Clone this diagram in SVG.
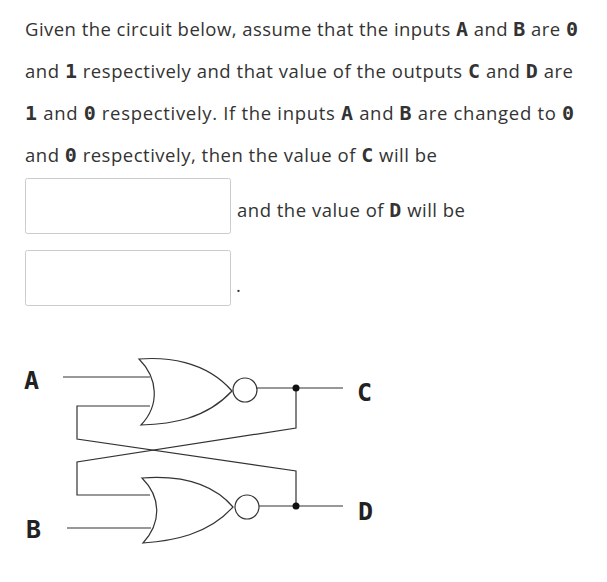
<svg xmlns="http://www.w3.org/2000/svg" width="607" height="582" viewBox="0 0 607 582">
<style>
.t{font-family:"Open Sans","Liberation Sans",sans-serif;font-size:18.5px;fill:#333}
.b{font-family:"DejaVu Sans Mono",monospace;font-weight:bold;font-size:20px}
.box{fill:#fff;stroke:#ccc;stroke-width:1}
.w{fill:none;stroke:#333;stroke-width:1.2}
.lbl{font-family:"DejaVu Sans Mono",monospace;font-weight:bold;font-size:25px;fill:#222}
</style>
<rect width="607" height="582" fill="#fff"/>
<g id="question">
<text class="t" x="25" y="36" textLength="553" lengthAdjust="spacing">Given the circuit below, assume that the inputs <tspan class="b">A</tspan> and <tspan class="b">B</tspan> are <tspan class="b">0</tspan></text>
<text class="t" x="25" y="78" textLength="548" lengthAdjust="spacing">and <tspan class="b">1</tspan> respectively and that value of the outputs <tspan class="b">C</tspan> and <tspan class="b">D</tspan> are</text>
<text class="t" x="25" y="120" textLength="549" lengthAdjust="spacing"><tspan class="b">1</tspan> and <tspan class="b">0</tspan> respectively. If the inputs <tspan class="b">A</tspan> and <tspan class="b">B</tspan> are changed to <tspan class="b">0</tspan></text>
<text class="t" x="25" y="162" textLength="412" lengthAdjust="spacing">and <tspan class="b">0</tspan> respectively, then the value of <tspan class="b">C</tspan> will be</text>
<rect class="box" x="25.5" y="178.5" width="205" height="55" rx="2"/>
<text class="t" x="237" y="217" textLength="228" lengthAdjust="spacing">and the value of <tspan class="b">D</tspan> will be</text>
<rect class="box" x="25.5" y="250.5" width="205" height="55" rx="2"/>
<text class="t" x="236" y="292">.</text>
</g>
<g id="gate1">
<path class="w" d="M139,359 C165,357 205,360 232,391 C205,420 170,424 141,425 C160,405 158,378 139,359 Z"/>
<circle class="w" cx="245" cy="390" r="12"/>
</g>
<g id="gate2">
<path class="w" d="M142,478 C168,476 208,478 233,507 C208,535 172,541 143,543 C162,522 161,497 142,478 Z"/>
<circle class="w" cx="247" cy="507" r="12"/>
</g>
<g id="connectors">
<path class="w" d="M63,377 H150"/>
<path class="w" d="M150,406 H77 V439 L296,471 V506"/>
<path class="w" d="M150,495 H77 V462 L296,428 V388"/>
<path class="w" d="M67,528 H151"/>
<path class="w" d="M257,388 H343"/>
<path class="w" d="M259,506 H343"/>
<circle cx="296" cy="388" r="3.5" fill="#111"/>
<circle cx="296" cy="506" r="3.5" fill="#111"/>
</g>
<g id="labels">
<text class="lbl" x="24" y="389">A</text>
<text class="lbl" x="26" y="538">B</text>
<text class="lbl" x="357" y="401">C</text>
<text class="lbl" x="358" y="520">D</text>
</g>
</svg>
